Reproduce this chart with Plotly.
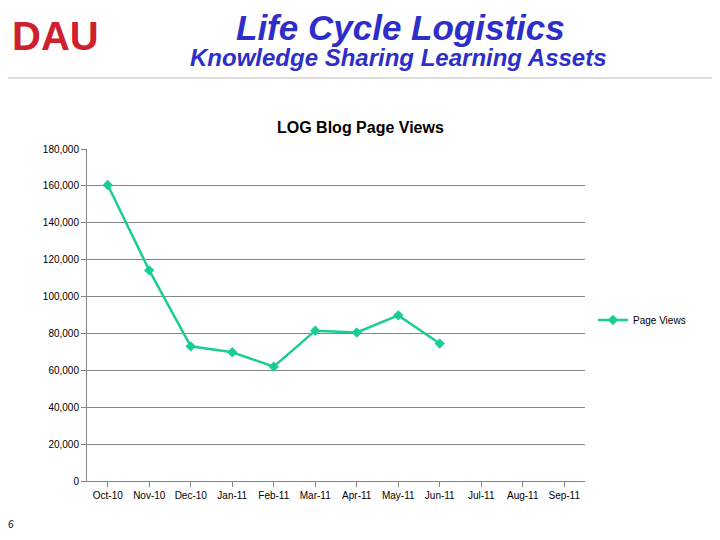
import plotly.graph_objects as go

months = ["Oct-10","Nov-10","Dec-10","Jan-11","Feb-11","Mar-11","Apr-11","May-11","Jun-11","Jul-11","Aug-11","Sep-11"]
views = [160500, 114200, 73000, 69800, 62000, 81500, 80500, 89800, 74500, None, None, None]
yticks = list(range(0, 180001, 20000))

def px(x):
    return (x - 87) / 498

def py(y):
    return (481 - y) / 332

fig = go.Figure(go.Scatter(
    x=months, y=views, mode="lines+markers", name="Page Views",
    line=dict(color="#1ACC96", width=2.5), marker=dict(symbol="diamond", size=8, color="#1ACC96"),
    connectgaps=False, showlegend=True))

fig.update_layout(
    width=712, height=532, paper_bgcolor="white", plot_bgcolor="white",
    margin=dict(l=79, r=135, t=141, b=59),
    font=dict(family="Liberation Sans, Arial", size=10, color="black"),
    showlegend=True,
    legend=dict(x=px(593), y=py(320), xanchor="left", yanchor="middle", font=dict(size=10)),
    xaxis=dict(type="category", categoryorder="array", categoryarray=months, range=[-0.5, 11.5],
               showline=True, linecolor="#868686", ticks="outside", tickcolor="#868686", showgrid=False,
               tickfont=dict(size=10)),
    yaxis=dict(range=[0, 180000], tickvals=yticks, tickformat=",d", showgrid=True, gridcolor="#868686",
               showline=True, linecolor="#868686", ticks="outside", tickcolor="#868686", zeroline=False,
               tickfont=dict(size=10)),
    shapes=[dict(type="line", xref="paper", yref="paper", x0=px(0), x1=px(720), y0=py(78), y1=py(78),
                 line=dict(color="#BBBBBB", width=1))],
    annotations=[
        dict(text="<b><i>Life Cycle Logistics</i></b>", xref="paper", yref="paper", x=px(400), y=py(27),
             showarrow=False, font=dict(size=35, color="#2E2EC8"), xanchor="center", yanchor="middle"),
        dict(text="<b><i>Knowledge Sharing Learning Assets</i></b>", xref="paper", yref="paper",
             x=px(398), y=py(57), showarrow=False, font=dict(size=24, color="#2E2EC8"),
             xanchor="center", yanchor="middle"),
        dict(text="<b>LOG Blog Page Views</b>", xref="paper", yref="paper", x=px(360),
             y=py(127), showarrow=False, font=dict(size=16), xanchor="center", yanchor="middle"),
        dict(text="<b>DAU</b>", xref="paper", yref="paper", x=px(10), y=py(36),
             showarrow=False, font=dict(size=40, color="#D0202E", family="Liberation Sans"),
             xanchor="left", yanchor="middle"),
        dict(text="<i>6</i>", xref="paper", yref="paper", x=px(6), y=py(524),
             showarrow=False, font=dict(size=10), xanchor="left", yanchor="middle"),
    ])
fig.write_html("out.html")
